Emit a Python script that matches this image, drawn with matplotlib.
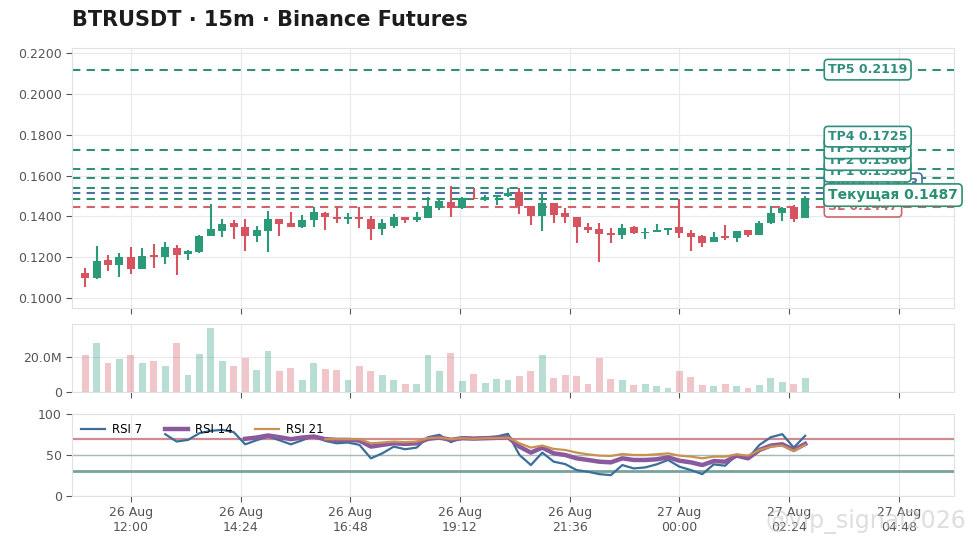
import numpy as np
import pandas as pd
import matplotlib
matplotlib.use("Agg")
import matplotlib.pyplot as plt
import matplotlib.dates as mdates
from matplotlib.ticker import FuncFormatter, FormatStrFormatter

# свечи 15m, BTRUSDT
start_time = "2025-08-26 11:00"
opens = [0.1122, 0.1098, 0.1186, 0.1161, 0.1199, 0.1141, 0.1210, 0.1199, 0.1246, 0.1215,
         0.1224, 0.1304, 0.1330, 0.1366, 0.1349, 0.1304, 0.1328, 0.1385, 0.1366, 0.1346,
         0.1382, 0.1418, 0.1398, 0.1386, 0.1397, 0.1387, 0.1337, 0.1353, 0.1398, 0.1382,
         0.1390, 0.1439, 0.1472, 0.1439, 0.1492, 0.1480, 0.1493, 0.1500, 0.1521, 0.1451,
         0.1402, 0.1464, 0.1415, 0.1398, 0.1349, 0.1336, 0.1317, 0.1309, 0.1346, 0.1320,
         0.1322, 0.1333, 0.1346, 0.1317, 0.1304, 0.1273, 0.1304, 0.1292, 0.1333, 0.1309,
         0.1366, 0.1415, 0.1447, 0.1390]
highs = [0.1145, 0.1255, 0.1211, 0.1222, 0.1251, 0.1245, 0.1264, 0.1276, 0.1260, 0.1235,
         0.1310, 0.1460, 0.1387, 0.1382, 0.1387, 0.1353, 0.1427, 0.1387, 0.1423, 0.1406,
         0.1444, 0.1420, 0.1447, 0.1415, 0.1447, 0.1402, 0.1385, 0.1411, 0.1398, 0.1423,
         0.1496, 0.1488, 0.1549, 0.1496, 0.1537, 0.1504, 0.1503, 0.1537, 0.1537, 0.1451,
         0.1513, 0.1464, 0.1439, 0.1398, 0.1366, 0.1369, 0.1341, 0.1362, 0.1353, 0.1341,
         0.1362, 0.1344, 0.1483, 0.1333, 0.1309, 0.1325, 0.1358, 0.1329, 0.1333, 0.1379,
         0.1451, 0.1447, 0.1455, 0.1500]
lows = [0.1055, 0.1092, 0.1134, 0.1104, 0.1117, 0.1140, 0.1145, 0.1166, 0.1113, 0.1186,
        0.1222, 0.1303, 0.1297, 0.1287, 0.1232, 0.1273, 0.1227, 0.1304, 0.1346, 0.1341,
        0.1349, 0.1333, 0.1366, 0.1362, 0.1341, 0.1284, 0.1309, 0.1341, 0.1366, 0.1374,
        0.1390, 0.1431, 0.1398, 0.1434, 0.1486, 0.1477, 0.1455, 0.1497, 0.1411, 0.1358,
        0.1330, 0.1369, 0.1369, 0.1268, 0.1320, 0.1178, 0.1268, 0.1287, 0.1314, 0.1287,
        0.1322, 0.1309, 0.1292, 0.1232, 0.1251, 0.1273, 0.1284, 0.1276, 0.1300, 0.1309,
        0.1361, 0.1379, 0.1374, 0.1390]
closes = [0.1098, 0.1183, 0.1161, 0.1199, 0.1141, 0.1207, 0.1199, 0.1248, 0.1211, 0.1230,
          0.1305, 0.1336, 0.1361, 0.1346, 0.1304, 0.1333, 0.1385, 0.1362, 0.1346, 0.1382,
          0.1420, 0.1398, 0.1387, 0.1397, 0.1387, 0.1337, 0.1369, 0.1398, 0.1382, 0.1395,
          0.1451, 0.1475, 0.1439, 0.1491, 0.1486, 0.1493, 0.1503, 0.1516, 0.1451, 0.1402,
          0.1464, 0.1406, 0.1398, 0.1346, 0.1333, 0.1313, 0.1309, 0.1341, 0.1317, 0.1325,
          0.1333, 0.1344, 0.1317, 0.1298, 0.1271, 0.1300, 0.1292, 0.1329, 0.1309, 0.1369,
          0.1418, 0.1442, 0.1385, 0.1487]
volumes_m = [21.0, 27.8, 16.5, 18.6, 21.0, 16.5, 17.7, 15.1, 27.8, 9.9,
             21.9, 36.5, 17.5, 15.1, 19.4, 12.8, 23.3, 12.2, 13.8, 6.8,
             16.7, 13.2, 12.8, 6.8, 14.6, 11.7, 9.9, 6.8, 4.5, 4.5,
             21.0, 11.7, 22.5, 6.4, 10.3, 5.0, 7.4, 6.8, 9.3, 12.2,
             21.0, 8.0, 9.9, 9.3, 4.5, 19.4, 7.4, 6.8, 4.1, 4.5,
             3.5, 2.1, 11.7, 8.7, 4.1, 3.5, 4.5, 3.5, 2.1, 3.9,
             8.0, 5.8, 4.5, 8.0]

# RSI (начинается с 8-й, 15-й и 22-й свечи)
rsi7 = [75.4, 66.4, 68.4, 76.6, 79.5, 80.7, 77.9, 63.0, 68.0, 72.5,
        68.0, 63.0, 68.0, 73.4, 67.2, 64.3, 65.2, 62.3, 45.9, 52.0,
        60.2, 57.0, 59.0, 71.7, 74.6, 65.6, 71.7, 70.5, 71.3, 72.5,
        75.8, 50.0, 37.7, 52.9, 41.8, 38.9, 31.6, 29.5, 26.6, 25.4,
        37.7, 33.6, 34.8, 38.5, 43.9, 35.7, 31.6, 26.6, 38.5, 36.9,
        50.0, 45.9, 62.3, 71.7, 75.4, 59.0, 73.4]
rsi14 = [69.7, 71.3, 73.8, 71.7, 69.3, 71.3, 72.5, 69.3, 68.4, 68.4,
         67.6, 60.2, 62.3, 64.3, 63.5, 64.3, 69.7, 71.3, 68.4, 70.5,
         70.0, 70.5, 70.9, 71.7, 60.2, 52.9, 59.0, 52.0, 50.0, 45.9,
         43.9, 41.8, 41.0, 45.9, 43.9, 43.9, 44.7, 47.1, 43.0, 41.0,
         37.7, 42.6, 41.8, 49.2, 45.9, 56.1, 61.5, 63.1, 56.1, 63.5]
rsi21 = [69.3, 69.3, 69.3, 69.3, 64.3, 65.2, 66.4, 65.6, 66.4, 70.5,
         71.3, 69.3, 70.5, 69.7, 70.5, 70.5, 71.3, 64.3, 59.0, 61.5,
         57.4, 56.1, 52.9, 50.8, 49.2, 48.8, 51.2, 50.0, 50.0, 50.8,
         52.0, 49.2, 48.0, 45.9, 48.0, 48.0, 50.8, 49.2, 56.1, 60.2,
         61.5, 54.9, 62.3]

level_names = ["SL", "Текущая", "Entry", "TP1", "TP2", "TP3", "TP4", "TP5"]
level_prices = [0.1447, 0.1487, 0.1513, 0.1538, 0.1586, 0.1634, 0.1725, 0.2119]

GREEN = "#2a9a79"
RED = "#d6545f"
TP_COL = "#2f8f7c"
ENTRY_COL = "#4c6fa6"
SL_COL = "#d0636b"
level_colors = [SL_COL, "#2a9070", ENTRY_COL, TP_COL, TP_COL, TP_COL, TP_COL, TP_COL]
GRID = "#e6eaee"
SPINE = "#dde2e7"
TXT = "#555555"

times = pd.date_range(start_time, periods=len(opens), freq="15min")
x = mdates.date2num(times)
step = 15 / 1440.0
o = np.array(opens); h = np.array(highs); l = np.array(lows); c = np.array(closes)
up = c >= o

fig = plt.figure(figsize=(9.71, 5.48), dpi=100)
ax = fig.add_axes([0.0742, 0.438, 0.908, 0.474])
axv = fig.add_axes([0.0742, 0.285, 0.908, 0.124], sharex=ax)
axr = fig.add_axes([0.0742, 0.095, 0.908, 0.1495], sharex=ax)

for a in (ax, axv, axr):
    a.set_facecolor("white")
    a.grid(True, color=GRID, lw=0.8)
    a.set_axisbelow(True)
    for s in a.spines.values():
        s.set_color(SPINE)
    a.tick_params(colors=TXT, labelsize=9, length=4, width=0.8)

# свечи
cols = np.where(up, GREEN, RED)
ax.vlines(x, l, h, colors=cols, lw=1.5, zorder=3)
ax.bar(x, np.abs(c - o), bottom=np.minimum(o, c), width=step * 0.7,
       color=cols, zorder=4)

# уровни
ymin, ymax = 0.0951, 0.2224
ax.set_ylim(ymin, ymax)
gap = 0.045 * (ymax - ymin)
label_y = []
prev = -1
for p in level_prices:
    y = max(p, prev + gap)
    label_y.append(y)
    prev = y
xlab = x[-1] + 2.0 * step
for i, (name, p, col) in enumerate(zip(level_names, level_prices, level_colors)):
    ax.axhline(p, color=col, lw=1.5, ls=(0, (4, 3)), zorder=2)
    big = name == "Текущая"
    ax.text(xlab, label_y[i], f"{name} {p:.4f}", ha="left", va="center",
            fontsize=10 if big else 9, fontweight="bold", color=col,
            zorder=20 if big else 10 + i, clip_on=False,
            bbox=dict(boxstyle="round,pad=0.3", fc="white", ec=col, lw=1.2))

ax.yaxis.set_major_locator(plt.MultipleLocator(0.02))
ax.yaxis.set_major_formatter(FormatStrFormatter("%.4f"))
ax.tick_params(axis="x", labelbottom=False)

# объем
vcols = np.where(up, GREEN, RED)
axv.bar(x, volumes_m, width=step * 0.6, color=vcols, alpha=0.33, zorder=3)
axv.set_ylim(0, max(volumes_m) * 1.07)
axv.set_yticks([0, 20])
axv.yaxis.set_major_formatter(FuncFormatter(lambda v, _: "0" if v == 0 else f"{v:.1f}M"))
axv.tick_params(axis="x", labelbottom=False)

# RSI
axr.axhline(70, color="#d08a90", lw=1.6, zorder=2)
axr.axhline(50, color="#a7b8b5", lw=1.0, zorder=2)
axr.axhline(30, color="#78a29d", lw=2.0, zorder=2)
axr.plot(x[len(x) - len(rsi7):], rsi7, color="#3b6e99", lw=1.6, label="RSI 7", zorder=3)
axr.plot(x[len(x) - len(rsi14):], rsi14, color="#8b5a9e", lw=3.2, label="RSI 14", zorder=3)
axr.plot(x[len(x) - len(rsi21):], rsi21, color="#c9924e", lw=1.6, label="RSI 21", zorder=3)
axr.set_ylim(0, 100)
axr.set_yticks([0, 50, 100])
axr.legend(loc="upper left", ncol=3, frameon=False, fontsize=8.5, handlelength=2.0,
           handletextpad=0.6, columnspacing=1.9, borderaxespad=0.4)

ticks = pd.date_range("2025-08-26 12:00", periods=8, freq="144min")
axr.set_xticks(mdates.date2num(ticks))
axr.xaxis.set_major_formatter(mdates.DateFormatter("%d %b\n%H:%M"))
for lab in axr.get_xticklabels():
    lab.set_ha("center")
axr.set_xlim(x[0] - 1.15 * step, x[-1] + 13.0 * step)

fig.text(0.0742, 0.963, "BTRUSDT · 15m · Binance Futures", fontsize=15,
         fontweight="bold", color="#1c1c1c", ha="left", va="center")
fig.text(0.995, 0.048, "@vip_signal2026", fontsize=17, color="#c8c8c8",
         alpha=0.6, ha="right", va="center")

fig.savefig("out.png", dpi=100)
